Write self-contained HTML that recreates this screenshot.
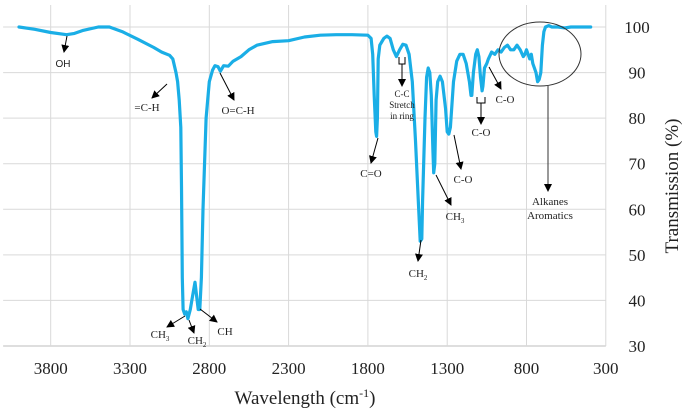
<!DOCTYPE html>
<html><head><meta charset="utf-8">
<style>
html,body{margin:0;padding:0;background:#fff;}
svg{display:block;font-family:"Liberation Serif",serif;}
</style></head>
<body>
<svg id="chart" width="685" height="414" viewBox="0 0 685 414" xmlns="http://www.w3.org/2000/svg">
<defs>
<marker id="ah" markerWidth="8" markerHeight="8" refX="7" refY="4" orient="auto" markerUnits="userSpaceOnUse">
<path d="M0,0 L8,4 L0,8 Z" fill="#000"/>
</marker>
</defs>
<g id="grid"></g>
<g id="axes"></g>
<path id="series" fill="none" stroke="#1AAEE6" stroke-width="3.2" stroke-linejoin="round" stroke-linecap="round"/>
<g font-size="11" fill="#222" stroke-width="1" text-anchor="middle">
<line x1="67" y1="36" x2="64" y2="52" stroke="#000" marker-end="url(#ah)"/>
<text x="63" y="67" font-family="Liberation Sans,sans-serif" font-size="10">OH</text>
<line x1="167" y1="84" x2="152" y2="98" stroke="#000" marker-end="url(#ah)"/>
<text x="147" y="111">=C-H</text>
<line x1="220" y1="73" x2="234" y2="100" stroke="#000" marker-end="url(#ah)"/>
<text x="238" y="114">O=C-H</text>
<line x1="185" y1="316" x2="167" y2="327" stroke="#000" marker-end="url(#ah)"/>
<text x="160" y="338">CH<tspan font-size="7" dy="3">3</tspan></text>
<line x1="189" y1="320" x2="194" y2="333" stroke="#000" marker-end="url(#ah)"/>
<text x="197" y="344">CH<tspan font-size="7" dy="3">2</tspan></text>
<line x1="200" y1="309" x2="217" y2="322" stroke="#000" marker-end="url(#ah)"/>
<text x="225" y="335">CH</text>
<line x1="378" y1="138" x2="371" y2="163" stroke="#000" marker-end="url(#ah)"/>
<text x="371" y="177">C=O</text>
<path d="M399,57 v7 h6 v-7" fill="none" stroke="#000"/>
<line x1="402" y1="64" x2="402" y2="86" stroke="#000" marker-end="url(#ah)"/>
<text x="402" y="97" font-size="9">C-C</text>
<text x="402" y="108" font-size="9">Stretch</text>
<text x="402" y="119" font-size="9">in ring</text>
<line x1="421" y1="240" x2="418" y2="261" stroke="#000" marker-end="url(#ah)"/>
<text x="418" y="277">CH<tspan font-size="7" dy="3">2</tspan></text>
<line x1="436" y1="175" x2="451" y2="205" stroke="#000" marker-end="url(#ah)"/>
<text x="455" y="220">CH<tspan font-size="7" dy="3">3</tspan></text>
<line x1="454" y1="135" x2="461" y2="169" stroke="#000" marker-end="url(#ah)"/>
<text x="463" y="183">C-O</text>
<path d="M477,97 v6 h8 v-6" fill="none" stroke="#000"/>
<line x1="481" y1="103" x2="481" y2="124" stroke="#000" marker-end="url(#ah)"/>
<text x="481" y="136">C-O</text>
<line x1="489" y1="67" x2="501" y2="89" stroke="#000" marker-end="url(#ah)"/>
<text x="505" y="103">C-O</text>
<ellipse cx="540" cy="54" rx="41" ry="32" fill="none" stroke="#333" stroke-width="1"/>
<line x1="548" y1="86" x2="548" y2="191" stroke="#333" marker-end="url(#ah)"/>
<text x="550" y="205">Alkanes</text>
<text x="550" y="219">Aromatics</text>
</g>
<text x="305" y="404" font-size="19" text-anchor="middle" fill="#222">Wavelength (cm<tspan font-size="12" dy="-7">-1</tspan><tspan dy="7">)</tspan></text>
<text transform="translate(678,186) rotate(-90)" font-size="19" text-anchor="middle" fill="#222">Transmission (%)</text>
</svg>
<script>
const xTicks = [3800, 3300, 2800, 2300, 1800, 1300, 800, 300];
const yTicks = [30, 40, 50, 60, 70, 80, 90, 100];
const wavenumbers = [4000,3900,3800,3700,3650,3600,3500,3430,3350,3250,3150,3100,3050,3030,3010,3000,2990,2980,2975,2970,2965,2955,2945,2935,2920,2905,2890,2880,2870,2860,2850,2840,2820,2800,2780,2765,2745,2730,2710,2680,2650,2600,2550,2500,2400,2300,2200,2100,2000,1900,1800,1780,1770,1760,1750,1745,1740,1735,1725,1700,1680,1660,1640,1620,1600,1580,1560,1540,1520,1500,1480,1470,1460,1455,1440,1430,1420,1410,1400,1390,1385,1378,1370,1360,1345,1330,1310,1300,1290,1280,1260,1240,1220,1200,1180,1160,1150,1145,1135,1120,1110,1100,1090,1080,1075,1065,1050,1040,1020,1000,980,960,940,920,900,880,860,840,820,810,800,780,770,760,750,740,730,720,710,700,690,680,660,640,600,560,520,480,440,395];
const transmission = [100,99.5,98.8,98.3,98.6,99.2,100,100,99,97.3,95.5,94.5,93.8,93,90,88,84,78,65,45,38,37,37.5,36,38,41,44,41,38,38,45,60,80,88,90.5,91.5,91.3,90.3,91.5,91.4,92.5,93.5,95,96,96.8,97,97.8,98.2,98.3,98.3,98.2,97.5,94,85,77,76,80,93,96,97.5,98,97.5,95,93.5,95,96.2,96,94,88,75,60,53,53.5,62,80,89,91,90,85,73,68,70,84,88,89.2,88,82,77,76.5,78,88,92.5,94,94,92,88,85,85,90,94,95,93.5,89,86,87,91,92,93,94.5,94,95,94.5,95.5,96,95,95,96,95,93.5,94,95,93,94,92,91,90,88,88.5,90,96,99,100,100.3,100,100,99.8,100,100,100,100];

const X = v => 50.7 + (3800 - v) * 0.1586;
const Y = v => 27 + (100 - v) * 4.557;
const NS = "http://www.w3.org/2000/svg";
const grid = document.getElementById('grid');
const axes = document.getElementById('axes');
const x0 = X(4100), x1 = X(300);

for (const t of yTicks) {
  const l = document.createElementNS(NS, 'line');
  
  
  l.setAttribute('x1', x0); l.setAttribute('x2', x1);
  l.setAttribute('y1', Y(t)); l.setAttribute('y2', Y(t));
  l.setAttribute('stroke', t === 30 ? '#bdbdbd' : '#d9d9d9');
  l.setAttribute('stroke-width', '1');
  grid.appendChild(l);
  const tx = document.createElementNS(NS, 'text');
  
  
  tx.setAttribute('x', 637); tx.setAttribute('y', Y(t) + 6);
  tx.setAttribute('text-anchor', 'middle');
  tx.setAttribute('font-size', '17');
  tx.setAttribute('fill', '#222');
  tx.textContent = t;
  axes.appendChild(tx);
}
for (const t of xTicks) {
  const l = document.createElementNS(NS, 'line');
  
  
  l.setAttribute('x1', X(t)); l.setAttribute('x2', X(t));
  l.setAttribute('y1', 5); l.setAttribute('y2', Y(30));
  l.setAttribute('stroke', '#d9d9d9');
  l.setAttribute('stroke-width', '1');
  grid.appendChild(l);
  const tx = document.createElementNS(NS, 'text');
  
  
  tx.setAttribute('x', X(t)); tx.setAttribute('y', 374);
  tx.setAttribute('text-anchor', 'middle');
  tx.setAttribute('font-size', '17');
  tx.setAttribute('fill', '#222');
  tx.textContent = t;
  axes.appendChild(tx);
}
let d = '';
wavenumbers.forEach((w, i) => { d += (i ? 'L' : 'M') + X(w).toFixed(1) + ',' + Y(transmission[i]).toFixed(1); });
document.getElementById('series').setAttribute('d', d);
</script>
</body></html>
